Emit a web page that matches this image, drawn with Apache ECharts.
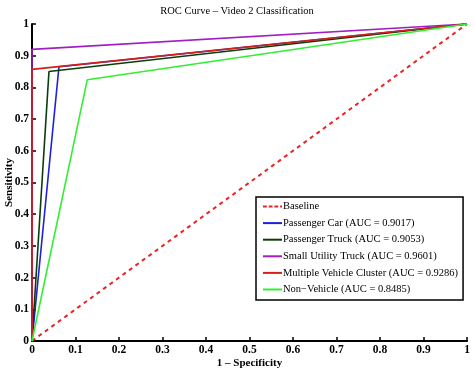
<!DOCTYPE html>
<html>
<head>
<meta charset="utf-8">
<script src="https://cdn.jsdelivr.net/npm/echarts@6/dist/echarts.min.js"></script>
<style>html,body{margin:0;padding:0;background:#fff}#c{width:474px;height:370px}</style>
</head>
<body>
<div id="c"></div>
<script>
const seriesNames = ['Baseline','Passenger Car (AUC = 0.9017)','Passenger Truck (AUC = 0.9053)','Small Utility Truck (AUC = 0.9601)','Multiple Vehicle Cluster (AUC = 0.9286)','Non\u2212Vehicle (AUC = 0.8485)'];
const baselineFpr = [0, 1];
const baselineTpr = [0, 1];
const carFpr = [0, 0.062, 1];
const carTpr = [0, 0.865, 1];
const truckFpr = [0, 0.039, 1];
const truckTpr = [0, 0.85, 1];
const utilityFpr = [0, 0, 1];
const utilityTpr = [0, 0.92, 1];
const clusterFpr = [0, 0, 1];
const clusterTpr = [0, 0.857, 1];
const nonVehFpr = [0, 0.127, 1];
const nonVehTpr = [0, 0.824, 1];

const colors = ['#ee2222','#1f1fdc','#0b3d0b','#a01fc0','#d0201a','#33ee33'];
const fprs = [baselineFpr, carFpr, truckFpr, utilityFpr, clusterFpr, nonVehFpr];
const tprs = [baselineTpr, carTpr, truckTpr, utilityTpr, clusterTpr, nonVehTpr];
const font = 'Liberation Serif';
const dashIcon = 'path://M0,0h4v2h-4z M6,0h4v2h-4z M12,0h4v2h-4z M18,0h2v2h-2z';

const series = seriesNames.map((n, i) => ({
  name: n,
  type: 'line',
  symbol: 'none',
  clip: false,
  data: fprs[i].map((x, j) => [x, tprs[i][j]]),
  lineStyle: { color: colors[i], width: i === 0 ? 2 : 1.6, type: i === 0 ? [4, 4] : 'solid' },
  itemStyle: { color: colors[i] },
  animation: false
}));

function axis(extra) {
  return Object.assign({
    type: 'value', min: 0, max: 1, interval: 0.1,
    axisLine: { show: true, lineStyle: { color: '#000', width: 2 } },
    axisTick: { show: true, inside: true, length: 4, lineStyle: { color: '#000', width: 1.5 } },
    splitLine: { show: false },
    axisLabel: { color: '#000', fontFamily: font, fontSize: 11.5, fontWeight: 'bold', margin: 3,
      formatter: v => String(Math.round(v * 10) / 10) },
    nameTextStyle: { color: '#000', fontFamily: font, fontSize: 11, fontWeight: 'bold' },
    nameLocation: 'middle',
    nameMoveOverlap: false
  }, extra);
}

const chart = echarts.init(document.getElementById('c'), null, { renderer: 'canvas' });
chart.setOption({
  animation: false,
  backgroundColor: '#fff',
  title: { text: 'ROC Curve \u2013 Video 2 Classification', left: 'center', top: 1,
    textStyle: { fontFamily: font, fontSize: 10.5, fontWeight: 'normal', color: '#000' } },
  grid: { left: 32, right: 7, top: 24, bottom: 29, containLabel: false, outerBoundsMode: 'none' },
  xAxis: axis({ name: '1 \u2013 Specificity', nameGap: 16.5 }),
  yAxis: axis({ name: 'Sensitivity', nameGap: 17 }),
  legend: {
    orient: 'vertical', left: 256, top: 197,
    backgroundColor: '#fff', borderColor: '#000', borderWidth: 1.5,
    padding: [4, 5, 5, 7], itemGap: 5.6, itemWidth: 19, itemHeight: 2,
    textStyle: { fontFamily: font, fontSize: 10.5, color: '#000', padding: [0, 0, 0, -4] },
    data: seriesNames.map((n, i) => ({ name: n, icon: i === 0 ? dashIcon : 'rect' }))
  },
  series: series
});
</script>
</body>
</html>
